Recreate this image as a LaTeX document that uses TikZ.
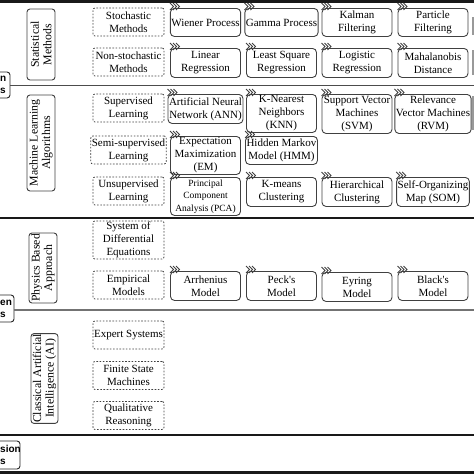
\documentclass[tikz,border=0pt]{standalone}
\usepackage{fontspec}
\setmainfont{Liberation Serif}[Ligatures=TeXOff]
\newfontfamily\cutfont{Liberation Sans}
\usetikzlibrary{calc}
\def\chevs(#1){\foreach \k in {0,3,6} \draw[chev] ($(#1)+(\k,-5)$) -- ++(3.5,3.5) -- ++(-3.5,3.5);}
\tikzset{
	catbox/.style={draw=black!75, line width=0.9pt, rounded corners=3pt, rotate=90, align=center, inner sep=0.5pt, font=\fontsize{11.8}{12.5}\selectfont},
	kindbox/.style={draw=black!75, line width=0.8pt, dash pattern=on 1.6pt off 1.6pt, rounded corners=2pt, align=center, inner sep=1pt, minimum width=71pt, minimum height=28pt, font=\fontsize{11}{13}\selectfont},
	algbox/.style={draw=black!75, line width=0.9pt, rounded corners=4pt, align=center, inner sep=1pt, anchor=north, minimum width=70pt, minimum height=28pt, font=\fontsize{11}{13}\selectfont},
	cutbox/.style={draw=black!85, line width=0.9pt, rounded corners=3pt},
	chev/.style={draw=black!75, line width=0.9pt}
}

\begin{document}
\begin{tikzpicture}[x=1pt, y=-1pt]
			%%%%% START %%%%%
			\useasboundingbox (0, 0) rectangle (474, 474);
			
			\fill[black!90] (0, 0) rectangle (474, 2.5);
			\fill[black!90] (0, 471) rectangle (474, 474);
			
			% cut boxes at the left edge
			\draw[cutbox] (-30, 72) rectangle (10, 98);
			\node[anchor=west, align=left, inner sep=0pt, font=\cutfont\bfseries\fontsize{10}{12}\selectfont] (cutA) at (0, 85) {n\\s};
			\draw[cutbox] (-30, 295) rectangle (14, 322);
			\node[anchor=west, align=left, inner sep=0pt, font=\cutfont\bfseries\fontsize{10}{12}\selectfont] (cutB) at (0, 308.5) {en\\s};
			\draw[cutbox] (-30, 441) rectangle (20, 469);
			\node[anchor=west, align=left, inner sep=0pt, font=\cutfont\bfseries\fontsize{10}{12}\selectfont] (cutC) at (0, 455) {sion\\s};
			
			% separators
			\draw[line width=1pt, color=black!70] (10, 85) -- (474, 85);
			\draw[line width=2.2pt, color=black!90] (0, 218) -- (474, 218);
			\draw[line width=2pt, color=black!55] (14, 310) -- (474, 310);
			\draw[line width=1.6pt, color=black!90] (0, 435) -- (474, 435);
			
			% categories
			\node[catbox, minimum width=71pt, minimum height=28pt] (statm) at (41, 44.5) {Statistical\\Methods};
			\node[catbox, minimum width=96pt, minimum height=28pt] (mlalg) at (41, 143) {Machine Learning\\Algorithms};
			\node[catbox, minimum width=70pt, minimum height=28pt] (physm) at (43, 268) {Physics Based\\Approach};
			\node[catbox, minimum width=85pt, minimum height=27pt] (clai) at (44.5, 378.5) {Classical Artificial\\Intelligence (AI)};
			
			% kinds
			\node[kindbox] (stoch) at (128.5, 22) {Stochastic\\Methods};
			\node[kindbox] (nonstoch) at (128.5, 62) {Non-stochastic\\Methods};
			\node[kindbox] (sup) at (128.5, 108) {Supervised\\Learning};
			\node[kindbox] (semi) at (128.5, 150) {Semi-supervised\\Learning};
			\node[kindbox] (unsup) at (128.5, 191) {Unsupervised\\Learning};
			\node[kindbox, minimum height=38pt] (diffeq) at (128.5, 240) {System of\\Differential\\Equations};
			\node[kindbox] (empir) at (128.5, 285) {Empirical\\Models};
			\node[kindbox] (expert) at (128.5, 335) {Expert Systems};
			\node[kindbox] (fsm) at (128.5, 375.5) {Finite State\\Machines};
			\node[kindbox] (qual) at (128.5, 415.5) {Qualitative\\Reasoning};
			
			% algorithms
			\node[algbox] (wiener) at (205.5, 8) {Wiener Process};
			\node[algbox] (gamma) at (281.5, 8) {Gamma Process};
			\node[algbox] (kalman) at (357, 8) {Kalman\\Filtering};
			\node[algbox] (particle) at (433, 8) {Particle\\Filtering};
			
			\node[algbox, minimum height=29pt] (linreg) at (205.5, 48) {Linear\\Regression};
			\node[algbox, minimum height=29pt] (lsq) at (281.5, 48) {Least Square\\Regression};
			\node[algbox, minimum height=29pt] (logreg) at (357, 48) {Logistic\\Regression};
			\node[algbox, minimum height=29pt] (mahal) at (433, 48) {Mahalanobis\\Distance};
			
			\node[algbox, minimum height=29pt] (ann) at (205.5, 94) {Artificial Neural\\Network (ANN)};
			\node[algbox, minimum height=38pt] (knn) at (281.5, 94) {K-Nearest\\Neighbors\\(KNN)};
			\node[algbox, minimum height=39pt] (svm) at (357, 94) {Support Vector\\Machines\\(SVM)};
			\node[algbox, minimum height=39pt] (rvm) at (433, 94) {Relevance\\Vector Machines\\(RVM)};
			
			\node[algbox, minimum height=38pt] (em) at (205.5, 136) {Expectation\\Maximization\\(EM)};
			\node[algbox] (hmm) at (281.5, 136) {Hidden Markov\\Model (HMM)};
			
			\node[algbox, minimum height=38pt, font=\fontsize{9.5}{12.5}\selectfont] (pca) at (205.5, 177) {Principal\\Component\\Analysis (PCA)};
			\node[algbox, minimum height=29pt] (kmeans) at (281.5, 177) {K-means\\Clustering};
			\node[algbox, minimum height=29pt] (hier) at (357, 177) {Hierarchical\\Clustering};
			\node[algbox, minimum height=29pt] (som) at (433, 177) {Self-Organizing\\Map (SOM)};
			
			\node[algbox, minimum height=29pt] (arrh) at (205.5, 271) {Arrhenius\\Model};
			\node[algbox, minimum height=29pt] (peck) at (281.5, 271) {Peck's\\Model};
			\node[algbox, minimum height=29pt] (eyring) at (357, 272) {Eyring\\Model};
			\node[algbox, minimum height=29pt] (black) at (433, 271) {Black's\\Model};
			
			\foreach \b in {wiener,gamma,kalman,particle,linreg,lsq,logreg,mahal,ann,knn,svm,rvm,em,hmm,pca,kmeans,hier,som,arrh,peck,eyring,black}
				{\chevs(\b.north west)}
			
			% boxes of a next column, cut at the right edge
			\fill[black!40] (471.5, 17) rectangle (474, 35);
			\fill[black!40] (471.5, 50) rectangle (474, 75);
			\fill[black!40] (471.5, 96) rectangle (474, 130);
			
			%%%%% END %%%%%
		\end{tikzpicture}
\end{document}
